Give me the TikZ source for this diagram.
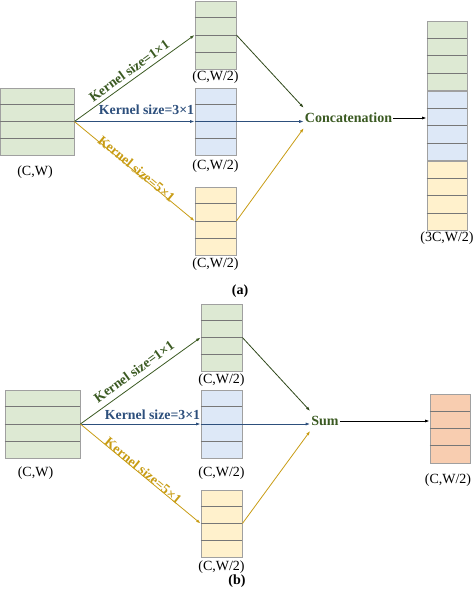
\documentclass[tikz,border=0pt]{standalone}
\usepackage{fontspec}
\setmainfont{Liberation Serif}
\usetikzlibrary{arrows.meta,positioning,calc}

\definecolor{greenfill}{HTML}{DDE9D3}
\definecolor{bluefill}{HTML}{DDE8F7}
\definecolor{yellowfill}{HTML}{FFF1CC}
\definecolor{orangefill}{HTML}{F8CDB0}
\definecolor{boxline}{HTML}{A0A0A0}
\definecolor{cellline}{HTML}{777777}
\definecolor{kgreen}{HTML}{3B5A22}
\definecolor{kblue}{HTML}{2D4F7C}
\definecolor{kyellow}{HTML}{C89C14}

\tikzset{
    tensor/.style={draw=boxline, line width=0.8pt, minimum width=41pt, inner sep=0pt},
    wire/.style={line width=0.8pt, -{Latex[length=4.5pt,width=3pt]}},
    kernel/.style={font=\fontsize{13.8}{16}\selectfont\bfseries, sloped, inner sep=3pt},
    dims/.style={inner sep=0pt},
}

% horizontal cell lines inside a tensor box
\newcommand{\splitbox}[1]{%
    \foreach \f in {0.25,0.5,0.75}
        \draw[cellline, line width=1pt] ($(#1.north west)!\f!(#1.south west)$) -- ($(#1.north east)!\f!(#1.south east)$);
}

\begin{document}
\begin{tikzpicture}[x=1pt, y=-1pt, font=\fontsize{14}{16}\selectfont]
    \useasboundingbox (0,0) rectangle (474,597);

    % ---------------- (a) ----------------
    % input
    \node[tensor, fill=greenfill, minimum width=74pt, minimum height=67pt] (inA) at (37,121.5) {};
    \splitbox{inA}
    \node[dims] (inAlab) at (35,172) {(C,W)};

    % branches
    \node[tensor, fill=greenfill, minimum height=68pt] (gA) at (215.5,35) {};
    \splitbox{gA}
    \node[dims] (gAlab) at (215.5,77) {(C,W/2)};

    \node[tensor, fill=bluefill, minimum height=67pt] (bA) at (215.5,121.5) {};
    \splitbox{bA}
    \node[dims] (bAlab) at (215.5,166) {(C,W/2)};

    \node[tensor, fill=yellowfill, minimum height=68pt] (yA) at (215.5,221) {};
    \splitbox{yA}
    \node[dims] (yAlab) at (215.5,264) {(C,W/2)};

    % concatenation
    \node[kgreen, font=\fontsize{14}{16}\selectfont\bfseries, inner xsep=1pt, inner ysep=5pt] (catA) at (348.5,118) {Concatenation};

    % output
    \node[tensor, fill=greenfill, minimum width=40pt, minimum height=69.33pt] (outgA) at (447,55.67) {};
    \node[tensor, fill=bluefill, minimum width=40pt, minimum height=69.33pt, below=0pt of outgA] (outbA) {};
    \node[tensor, fill=yellowfill, minimum width=40pt, minimum height=69.33pt, below=0pt of outbA] (outyA) {};
    \splitbox{outgA}
    \splitbox{outbA}
    \splitbox{outyA}
    \node[dims] (outAlab) at (447,238) {(3C,W/2)};

    % connectors
    \draw[wire, kgreen] (inA.east) -- (gA.west) node[kernel, kgreen, pos=0.5, above=1pt] {Kernel size=1×1};
    \draw[wire, kblue] (inA.east) -- (bA.west) node[kernel, kblue, pos=0.6, above=3pt] {Kernel size=3×1};
    \draw[wire, kyellow] (inA.east) -- (yA.west) node[kernel, kyellow, pos=0.5, inner sep=0pt, above=-2pt] {Kernel size=5×1};
    \draw[wire, kgreen!80!black] (gA.east) -- (catA.north west);
    \draw[wire, kblue] (bA.west) -- (bA.west -| catA.west);
    \draw[wire, kyellow] (yA.east) -- (catA.south west);
    \draw[wire, black] (catA.east) -- (catA.east -| outbA.west);

    \node[font=\fontsize{14}{16}\selectfont\bfseries] (capA) at (240,291) {(a)};

    % ---------------- (b) ----------------
    % input
    \node[tensor, fill=greenfill, minimum width=75pt, minimum height=68pt] (inB) at (42.5,424) {};
    \splitbox{inB}
    \node[dims] (inBlab) at (35.5,473) {(C,W)};

    % branches
    \node[tensor, fill=greenfill, minimum height=67pt] (gB) at (221.5,337.5) {};
    \splitbox{gB}
    \node[dims] (gBlab) at (221.5,380) {(C,W/2)};

    \node[tensor, fill=bluefill, minimum height=68pt] (bB) at (221.5,424) {};
    \splitbox{bB}
    \node[dims] (bBlab) at (221.5,473) {(C,W/2)};

    \node[tensor, fill=yellowfill, minimum height=67pt] (yB) at (221.5,523.5) {};
    \splitbox{yB}
    \node[dims] (yBlab) at (221.5,567) {(C,W/2)};

    % sum
    \node[kgreen, font=\fontsize{14}{16}\selectfont\bfseries, inner xsep=1pt, inner ysep=5pt] (sumB) at (325,421) {Sum};

    % output
    \node[tensor, fill=orangefill, minimum width=40pt, minimum height=69pt] (outB) at (450,428.5) {};
    \splitbox{outB}
    \node[dims] (outBlab) at (448,480) {(C,W/2)};

    % connectors
    \draw[wire, kgreen] (inB.east) -- (gB.west) node[kernel, kgreen, pos=0.5, above=3pt] {Kernel size=1×1};
    \draw[wire, kblue] (inB.east) -- (bB.west) node[kernel, kblue, pos=0.6, above=1pt] {Kernel size=3×1};
    \draw[wire, kyellow] (inB.east) -- (yB.west) node[kernel, kyellow, pos=0.5, inner sep=0pt, above=-1pt] {Kernel size=5×1};
    \draw[wire, kgreen!80!black] (gB.east) -- (sumB.north west);
    \draw[wire, kblue] (bB.west) -- (bB.west -| sumB.west);
    \draw[wire, kyellow] (yB.east) -- (sumB.south west);
    \draw[wire, black] (sumB.east) -- (sumB.east -| outB.west);

    \node[font=\fontsize{14}{16}\selectfont\bfseries] (capB) at (237,581) {(b)};
\end{tikzpicture}
\end{document}
